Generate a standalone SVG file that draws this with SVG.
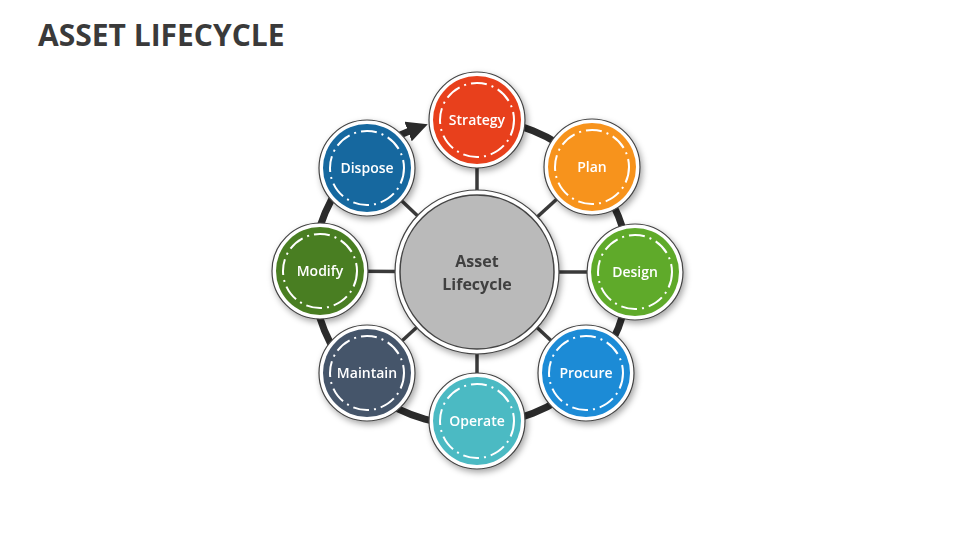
<svg xmlns="http://www.w3.org/2000/svg" width="960" height="540" viewBox="0 0 960 540">
<defs>
<style>
.n{stroke:#3a3a3a;stroke-width:1.5}
.w{fill:#fff;stroke:#444;stroke-width:1.2}
.d{fill:none;stroke:#fff;stroke-width:2;stroke-dasharray:16 5 2 5}
.t{font-family:"Open Sans","Liberation Sans",sans-serif;font-size:14px;font-weight:600;fill:#fff;text-anchor:middle}
</style>
<filter id="sh" x="-30%" y="-30%" width="160%" height="160%"><feDropShadow dx="2" dy="3" stdDeviation="3" flood-opacity="0.35"/></filter>
<marker id="ah" viewBox="0 0 10 10" refX="2" refY="5" markerWidth="3" markerHeight="3" orient="auto" markerUnits="strokeWidth"><path d="M0,0 L10,5 L0,10 Z" fill="#2b2b2b"/></marker>
</defs>
<rect width="960" height="540" fill="#fff"/>
<text x="38" y="46" font-family="Open Sans,Liberation Sans,sans-serif" font-weight="700" font-size="30" fill="#3a3a3a">ASSET LIFECYCLE</text>
<g id="connectors" stroke="#3a3a3a">
<path d="M477,120 A152,152 0 0 1 477,424 A152,152 0 0 1 412,130" fill="none" stroke="#2b2b2b" stroke-width="7" marker-end="url(#ah)"/>
<g stroke-width="3.5">
<line x1="477" y1="272" x2="477" y2="120"/><line x1="477" y1="272" x2="592" y2="167"/><line x1="477" y1="272" x2="635" y2="272"/><line x1="477" y1="272" x2="586" y2="373"/><line x1="477" y1="272" x2="477" y2="421"/><line x1="477" y1="272" x2="367" y2="373"/><line x1="477" y1="272" x2="320" y2="271"/><line x1="477" y1="272" x2="367" y2="168"/>
</g>
</g>
<g id="center" filter="url(#sh)"><circle cx="477" cy="272" r="82" class="w"/><circle cx="477" cy="272" r="77" fill="#bababa" stroke="#444" stroke-width="1.5"/>
<text x="477" y="267" font-family="Open Sans,Liberation Sans,sans-serif" font-weight="700" font-size="16" fill="#3f3f3f" text-anchor="middle">Asset</text>
<text x="477" y="290" font-family="Open Sans,Liberation Sans,sans-serif" font-weight="700" font-size="16" fill="#3f3f3f" text-anchor="middle">Lifecycle</text></g>
<g id="strategy" filter="url(#sh)"><circle cx="477" cy="120" r="48" class="w"/><circle cx="477" cy="120" r="44" fill="#E8401C"/><circle cx="477" cy="120" r="37" class="d"/><text x="477" y="125" class="t">Strategy</text></g>
<g id="plan" filter="url(#sh)"><circle cx="592" cy="167" r="48" class="w"/><circle cx="592" cy="167" r="44" fill="#F7931E"/><circle cx="592" cy="167" r="37" class="d"/><text x="592" y="172" class="t">Plan</text></g>
<g id="design" filter="url(#sh)"><circle cx="635" cy="272" r="48" class="w"/><circle cx="635" cy="272" r="44" fill="#5FAA2C"/><circle cx="635" cy="272" r="37" class="d"/><text x="635" y="277" class="t">Design</text></g>
<g id="procure" filter="url(#sh)"><circle cx="586" cy="373" r="48" class="w"/><circle cx="586" cy="373" r="44" fill="#1C8BD6"/><circle cx="586" cy="373" r="37" class="d"/><text x="586" y="378" class="t">Procure</text></g>
<g id="operate" filter="url(#sh)"><circle cx="477" cy="421" r="48" class="w"/><circle cx="477" cy="421" r="44" fill="#4CBAC3"/><circle cx="477" cy="421" r="37" class="d"/><text x="477" y="426" class="t">Operate</text></g>
<g id="maintain" filter="url(#sh)"><circle cx="367" cy="373" r="48" class="w"/><circle cx="367" cy="373" r="44" fill="#44546A"/><circle cx="367" cy="373" r="37" class="d"/><text x="367" y="378" class="t">Maintain</text></g>
<g id="modify" filter="url(#sh)"><circle cx="320" cy="271" r="48" class="w"/><circle cx="320" cy="271" r="44" fill="#4A7E22"/><circle cx="320" cy="271" r="37" class="d"/><text x="320" y="276" class="t">Modify</text></g>
<g id="dispose" filter="url(#sh)"><circle cx="367" cy="168" r="48" class="w"/><circle cx="367" cy="168" r="44" fill="#15689F"/><circle cx="367" cy="168" r="37" class="d"/><text x="367" y="173" class="t">Dispose</text></g>
</svg>
